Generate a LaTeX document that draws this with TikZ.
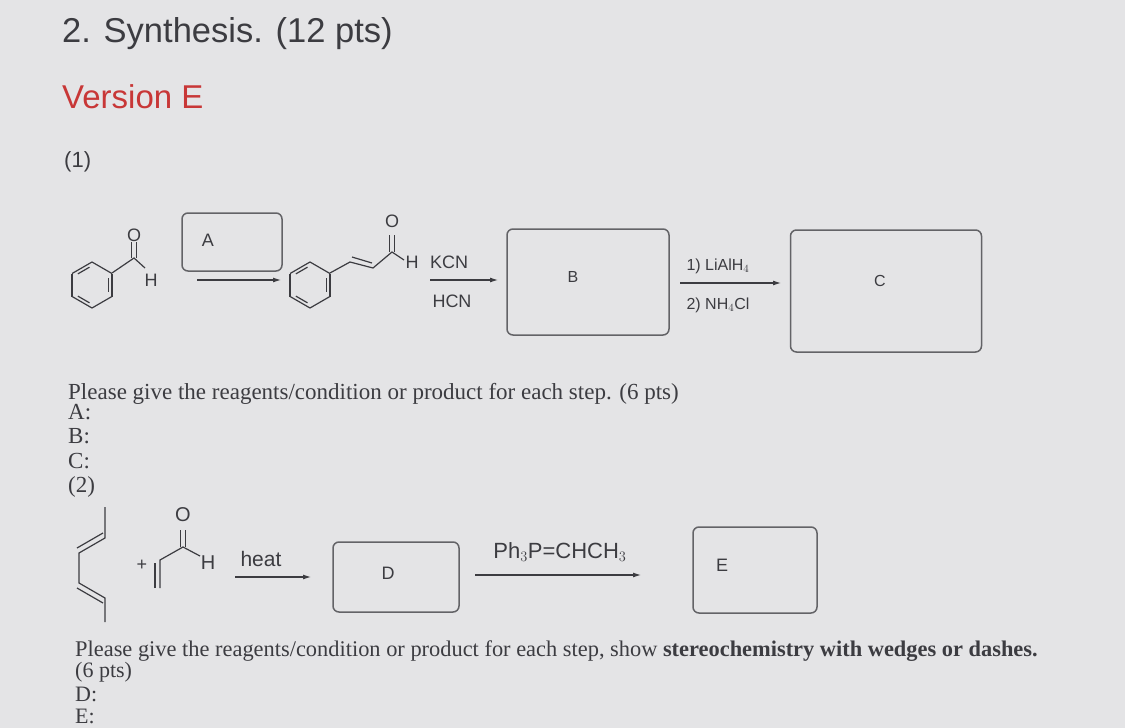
\documentclass[tikz,border=0pt]{standalone}
\usepackage{fontspec}
\usetikzlibrary{arrows.meta}
\setmainfont{Liberation Serif}
\newfontfamily\arialf{Liberation Sans}
\definecolor{bg}{RGB}{228,228,230}
\definecolor{ink}{RGB}{60,60,65}
\definecolor{vred}{RGB}{200,55,55}
\begin{document}
\begin{tikzpicture}[x=1pt,y=-1pt,
  bond/.style={ink,line width=1.2pt},
  ansbox/.style={draw=ink!80,line width=1.5pt,rounded corners=6pt},
  rarrow/.style={ink,line width=1.1pt,-{Latex[length=8pt,width=5pt]}},
  lab/.style={font=\arialf\fontsize{18}{18}\selectfont,text=ink,inner sep=0pt},
  ser/.style={font=\fontsize{23}{24}\selectfont,text=ink,anchor=west,inner sep=0pt}]
\fill[bg] (0,0) rectangle (1125,728);
\useasboundingbox (0,0) rectangle (1125,728);
\node[anchor=west,inner sep=0pt,text=ink,font=\arialf\fontsize{34.5}{34}\selectfont] (t1) at (62,34) {2. Synthesis. (12 pts)};
\node[anchor=west,inner sep=0pt,text=vred,font=\arialf\fontsize{33}{33}\selectfont] (t2) at (62,97) {Version E};
\node[anchor=west,inner sep=0pt,text=ink,font=\arialf\fontsize{22}{22}\selectfont] (t3) at (64,162) {(1)};
% benzaldehyde
\foreach \a in {30,90,...,330}{\draw[bond] ({92+23*cos(\a)},{285-23*sin(\a)}) -- ({92+23*cos(\a+60)},{285-23*sin(\a+60)});}
\foreach \a in {90,210,330}{\draw[bond] ({92+18*cos(\a+8)},{285-18*sin(\a+8)}) -- ({92+18*cos(\a+52)},{285-18*sin(\a+52)});}
\draw[bond] (112,273) -- (134,258) -- (145,268);
\draw[bond] (131.5,258) -- (131.5,242) (136.5,258) -- (136.5,242);
\node[lab] (o1) at (134,235) {O};
\node[lab] (h1) at (151,280) {H};
% box A
\node[ansbox,minimum width=100pt,minimum height=58pt] (A) at (232,242) {};
\node[lab] (Al) at (208,240) {A};
\coordinate (a1s) at (197,280); \coordinate (a1e) at (281,280);
\draw[rarrow] (a1s) -- (a1e);
% cinnamaldehyde
\foreach \a in {30,90,...,330}{\draw[bond] ({310+23*cos(\a)},{285-23*sin(\a)}) -- ({310+23*cos(\a+60)},{285-23*sin(\a+60)});}
\foreach \a in {90,210,330}{\draw[bond] ({310+18*cos(\a+8)},{285-18*sin(\a+8)}) -- ({310+18*cos(\a+52)},{285-18*sin(\a+52)});}
\draw[bond] (330,273) -- (350,262) -- (373,268) -- (392,252) -- (404,260);
\draw[bond] (352,257) -- (372,263);
\draw[bond] (389.5,252) -- (389.5,235) (394.5,252) -- (394.5,235);
\node[lab] (o2) at (392,221) {O};
\node[lab] (h2) at (412,262) {H};
\coordinate (a2s) at (430,280); \coordinate (a2e) at (498,280);
\draw[rarrow] (a2s) -- (a2e);
\node[lab] (kcn) at (449,262) {KCN};
\node[lab] (hcn) at (452,301) {HCN};
\node[ansbox,minimum width=162pt,minimum height=106pt] (B) at (588,282) {};
\node[lab,font=\arialf\fontsize{16}{16}\selectfont] (Bl) at (573,277) {B};
\coordinate (a3s) at (680,283); \coordinate (a3e) at (781,283);
\draw[rarrow] (a3s) -- (a3e);
\node[lab,font=\arialf\fontsize{16}{16}\selectfont] (r1) at (718,266) {1) LiAlH$_4$};
\node[lab,font=\arialf\fontsize{16}{16}\selectfont] (r2) at (718,305) {2) NH$_4$Cl};
\node[ansbox,minimum width=191pt,minimum height=122pt] (C) at (886,291) {};
\node[lab,font=\arialf\fontsize{16}{16}\selectfont] (Cl) at (880,281) {C};
% text
\node[ser] (q1) at (68,394) {Please give the reagents/condition or product for each step. (6 pts)};
\node[ser] (qa) at (68,412) {A:};
\node[ser] (qb) at (68,436) {B:};
\node[ser] (qc) at (68,461) {C:};
\node[ser] (q2) at (68,487) {(2)};
% diene
\draw[bond] (105,507) -- (105,538) -- (79,553) -- (79,583) -- (105,598) -- (105,622);
\draw[bond] (103,533) -- (77,548);
\draw[bond] (103,603) -- (77,588);
\node[lab] (plus) at (142,565) {+};
% acrolein
\draw[bond] (160,588) -- (160,560) -- (183,547) -- (200,556);
\draw[bond] (155,588) -- (155,563);
\draw[bond] (180.5,547) -- (180.5,530) (185.5,547) -- (185.5,530);
\node[lab,font=\arialf\fontsize{20}{20}\selectfont] (o3) at (183,515) {O};
\node[lab,font=\arialf\fontsize{20}{20}\selectfont] (h3) at (208,563) {H};
\coordinate (a4s) at (235,577); \coordinate (a4e) at (311,577);
\draw[rarrow] (a4s) -- (a4e);
\node[lab,font=\arialf\fontsize{21}{21}\selectfont] (heat) at (261,559) {heat};
\node[ansbox,minimum width=126pt,minimum height=70pt] (D) at (396,577) {};
\node[lab,font=\arialf\fontsize{18}{18}\selectfont] (Dl) at (388,573) {D};
\coordinate (a5s) at (475,575); \coordinate (a5e) at (641,575);
\draw[rarrow] (a5s) -- (a5e);
\node[lab,font=\arialf\fontsize{22}{22}\selectfont] (wit) at (560,552) {Ph$_3$P=CHCH$_3$};
\node[ansbox,minimum width=124pt,minimum height=86pt] (E) at (755,570) {};
\node[lab,font=\arialf\fontsize{18}{18}\selectfont] (El) at (722,565) {E};
\node[ser,font=\fontsize{22.4}{24}\selectfont] (q3) at (75,651) {Please give the reagents/condition or product for each step, show \textbf{stereochemistry with wedges or dashes.}};
\node[ser,font=\fontsize{22}{24}\selectfont] (q4) at (75,672) {(6 pts)};
\node[ser,font=\fontsize{22}{24}\selectfont] (qd) at (75,694) {D:};
\node[ser,font=\fontsize{22}{24}\selectfont] (qe) at (75,716) {E:};
\end{tikzpicture}
\end{document}
